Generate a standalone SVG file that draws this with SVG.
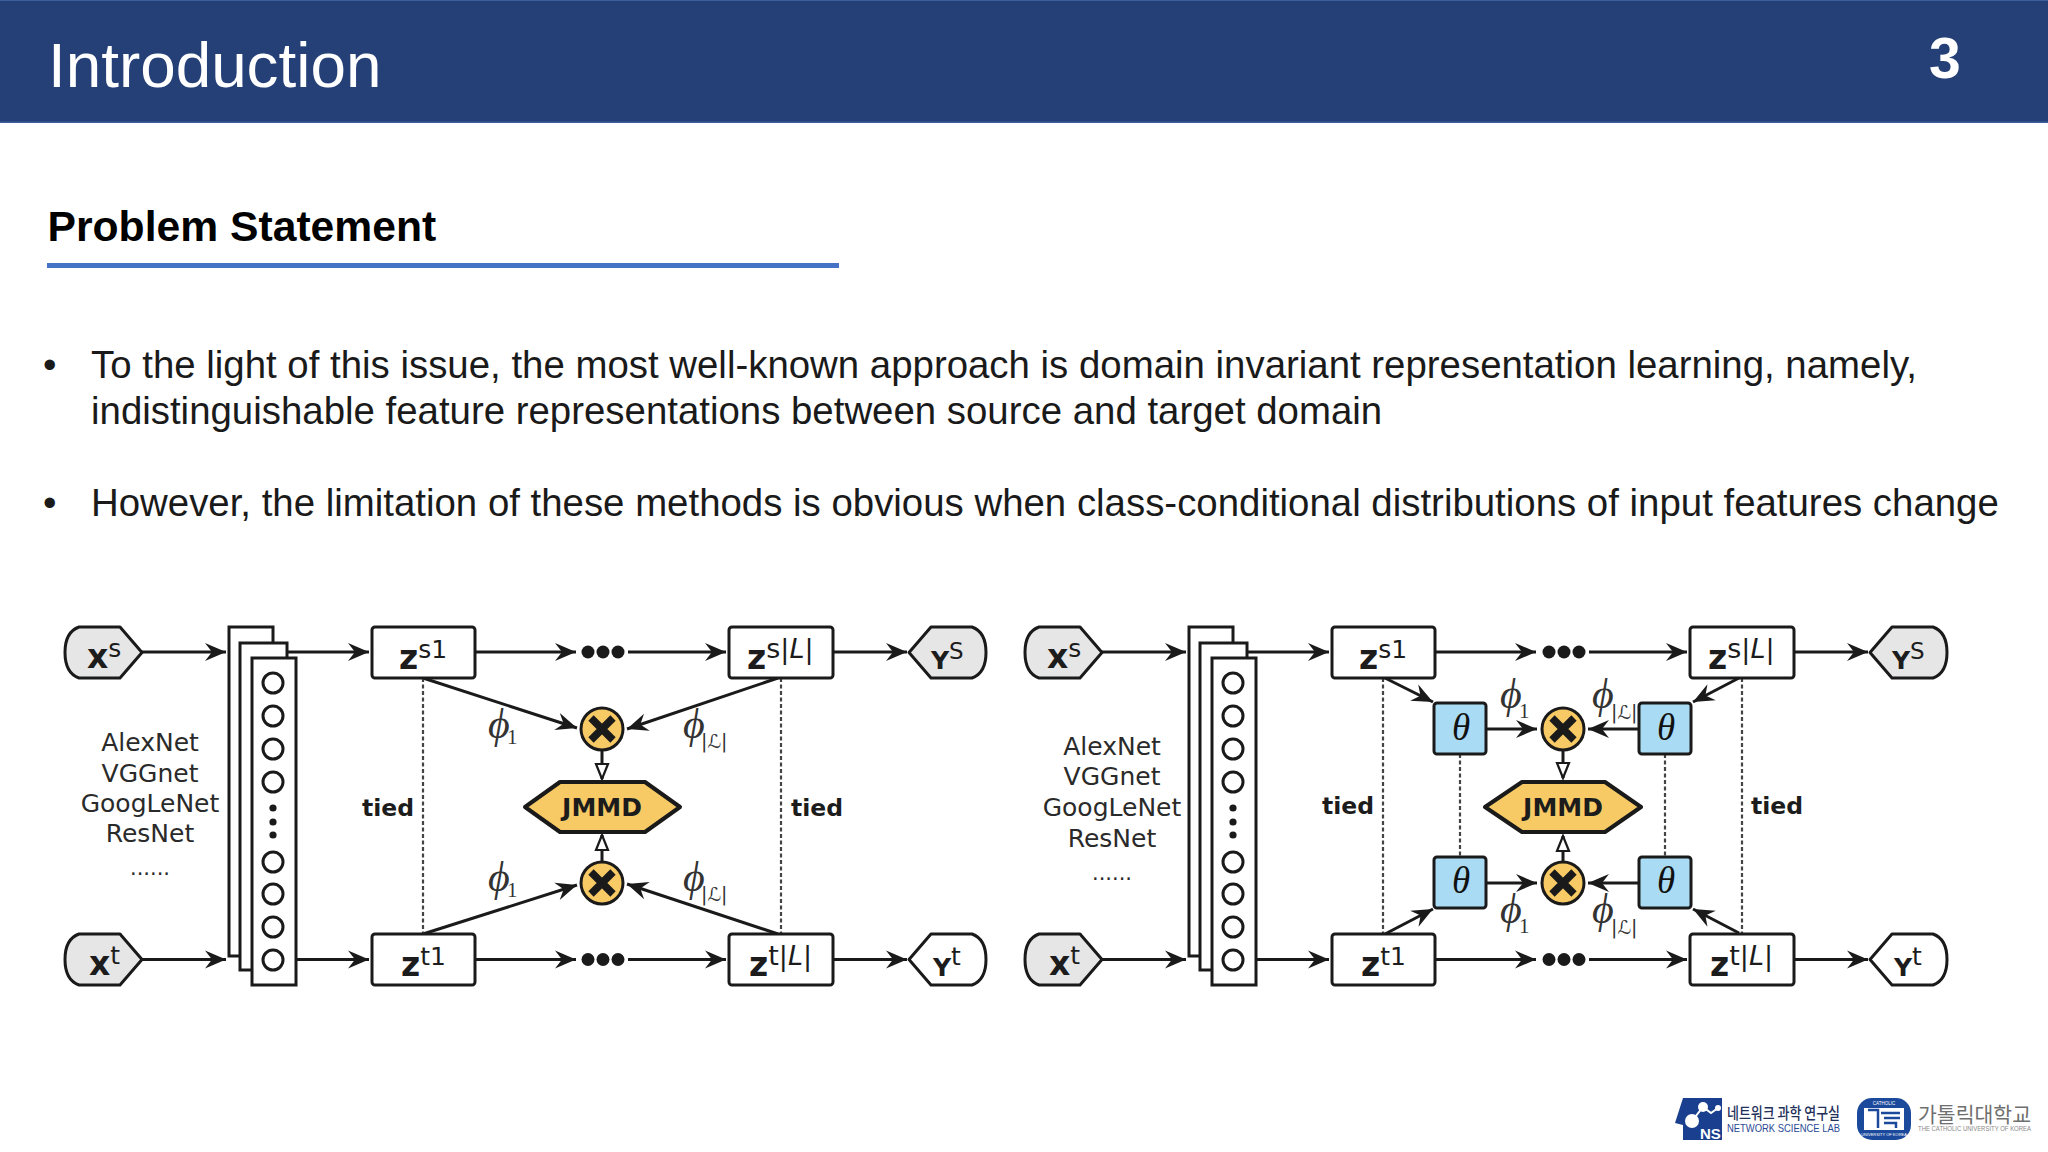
<svg xmlns="http://www.w3.org/2000/svg" width="2048" height="1152" viewBox="0 0 2048 1152">
<style>
.ui{font-family:"Liberation Sans",Arial,sans-serif}
.body{font-family:"Liberation Sans",Arial,sans-serif;font-size:38.4px;fill:#1a1a1a}
.dj{font-family:"DejaVu Sans",sans-serif;fill:#1c1c1c}
.net{font-size:25px;text-anchor:middle;fill:#2a2a2a}
.ell{font-size:21px;text-anchor:middle;fill:#2a2a2a}
.tied{font-size:23.5px;font-weight:bold;text-anchor:middle}
.m{font-size:33px;font-weight:bold}
.y{font-size:25px;font-weight:bold}
.sp{font-size:25px;font-weight:normal}
.sl{font-size:27px;font-weight:normal}
.sq{font-size:23px;font-weight:normal}
.b{fill:#fff;stroke:#1a1a1a;stroke-width:3;stroke-linejoin:round}
.g{fill:#e6e6e6}
.or{fill:#f7ca66}
.t{fill:#a9dcf4;stroke:#1a1a1a;stroke-width:3}
.n{fill:#fff;stroke:#1a1a1a;stroke-width:3}
.k{fill:#1a1a1a}
.c{fill:none;stroke:#1a1a1a;stroke-width:3}
.a{marker-end:url(#ar)}
.h{marker-end:url(#ho)}
.d{stroke-dasharray:4 2.5;stroke-width:2.2;stroke:#444}
.x{stroke:#1a1a1a;stroke-width:7.5;stroke-linecap:butt}
.phi{font-family:"Liberation Serif",serif;font-style:italic;font-size:42px;fill:#333}
.sub{font-family:"Liberation Serif",serif;font-size:21px;fill:#333}
.sc{font-family:"DejaVu Sans",sans-serif;font-size:19px;fill:#333}
.th{font-family:"Liberation Serif",serif;font-style:italic;font-size:37px;fill:#111;text-anchor:middle}
.jm{font-size:25px;font-weight:bold;text-anchor:middle}
</style>
<defs>
<marker id="ar" markerUnits="userSpaceOnUse" markerWidth="24" markerHeight="20" refX="22" refY="10" orient="auto"><path d="M1,1 L22,10 L1,19 L8,10 Z" fill="#1a1a1a"/></marker>
<marker id="ho" markerUnits="userSpaceOnUse" markerWidth="20" markerHeight="16" refX="17" refY="8" orient="auto"><path d="M2,2 L17,8 L2,14 Z" fill="#fff" stroke="#1a1a1a" stroke-width="2.200"/></marker>
<g id="otimes"><circle r="21" class="or" stroke="#1a1a1a" stroke-width="3"/><path d="M-11,-11 L11,11 M-11,11 L11,-11" class="x"/></g>
<g id="stack">
<rect x="229" y="627" width="44" height="329" class="n"/>
<rect x="240" y="643" width="47" height="327" class="n"/>
<rect x="252" y="658" width="44" height="327" class="n"/>
<circle cx="273" cy="683" r="10" class="n"/><circle cx="273" cy="716" r="10" class="n"/><circle cx="273" cy="749" r="10" class="n"/><circle cx="273" cy="782" r="10" class="n"/>
<circle cx="273" cy="808" r="3.600" class="k"/><circle cx="273" cy="822" r="3.600" class="k"/><circle cx="273" cy="835" r="3.600" class="k"/>
<circle cx="273" cy="862" r="10" class="n"/><circle cx="273" cy="894" r="10" class="n"/><circle cx="273" cy="927" r="10" class="n"/><circle cx="273" cy="960" r="10" class="n"/>
</g>
<path id="hx" d="M14,0 H55 L77,25.500 L55,51 H14 Q0,46 0,25.500 Q0,5 14,0 Z"/>
<path id="hy" d="M22,0 H63 Q77,5 77,25.500 Q77,46 63,51 H22 L0,25.500 Z"/>
</defs>
<rect width="2048" height="1152" fill="#fff"/>
<g id="header">
<rect x="0" y="0" width="2048" height="123" fill="#3d5f9c"/>
<rect x="0" y="1" width="2048" height="120.500" fill="#253f77"/>
<text x="48" y="87" class="ui" font-size="63.800" fill="#fff">Introduction</text>
<text x="1929" y="78" class="ui" font-size="57" font-weight="bold" fill="#fff">3</text>
</g>
<g id="heading">
<text x="47.500" y="240.500" class="ui" font-size="42.670" font-weight="bold" fill="#000">Problem Statement</text>
<rect x="47" y="263" width="792" height="5" fill="#4472c4"/>
</g>
<g id="bullets" class="body">
<text x="43" y="378">•</text>
<text x="91" y="378">To the light of this issue, the most well-known approach is domain invariant representation learning, namely,</text>
<text x="91" y="424">indistinguishable feature representations between source and target domain</text>
<text x="43" y="516">•</text>
<text x="91" y="516">However, the limitation of these methods is obvious when class-conditional distributions of input features change</text>
</g>
<g id="connectors">
<g id="connectors-left" class="c">
<path class="a" d="M142,652 H226"/><path class="a" d="M287,652 H369"/><path class="a" d="M475,652 H576"/><path class="a" d="M628,652 H726"/><path class="a" d="M833,652 H907"/>
<path class="a" d="M142,959.500 H226"/><path class="a" d="M296,959.500 H369"/><path class="a" d="M475,959.500 H576"/><path class="a" d="M628,959.500 H726"/><path class="a" d="M833,959.500 H907"/>
<path class="a" d="M423,678 L577,728"/><path class="a" d="M778,678 L627,729"/><path class="a" d="M423,934 L577,885"/><path class="a" d="M778,934 L627,884"/>
<path class="d" d="M423,678 V934"/><path class="d" d="M781,678 V934"/>
<path class="h" d="M602,750 V779"/><path class="h" d="M602,862 V835"/>
</g>
<g id="connectors-right" class="c">
<path class="a" d="M1102,652 H1186"/><path class="a" d="M1247,652 H1329"/><path class="a" d="M1435,652 H1536"/><path class="a" d="M1589,652 H1687"/><path class="a" d="M1794,652 H1868"/>
<path class="a" d="M1102,959.500 H1186"/><path class="a" d="M1256,959.500 H1329"/><path class="a" d="M1435,959.500 H1536"/><path class="a" d="M1589,959.500 H1687"/><path class="a" d="M1794,959.500 H1868"/>
<path class="a" d="M1385,678 L1433,702"/><path class="a" d="M1385,934 L1433,909"/><path class="a" d="M1739,678 L1693,702"/><path class="a" d="M1739,933 L1693,909"/>
<path class="a" d="M1486,729 H1537"/><path class="a" d="M1639,729 H1588"/><path class="a" d="M1486,883 H1537"/><path class="a" d="M1639,883 H1588"/>
<path class="d" d="M1383,678 V934"/><path class="d" d="M1742,678 V934"/><path class="d" d="M1460,754 V857"/><path class="d" d="M1665,754 V857"/>
<path class="h" d="M1563,750 V778"/><path class="h" d="M1563,862 V836"/>
</g>
</g>
<g id="left-diagram">
<g id="l-xs"><use href="#hx" x="65" y="627" class="b g"/><text x="87" y="668" class="dj m">x<tspan class="sp" dy="-11">s</tspan></text></g>
<g id="l-xt"><use href="#hx" x="65" y="934" class="b g"/><text x="89" y="975" class="dj m">x<tspan class="sp" dy="-11">t</tspan></text></g>
<g id="l-stack"><use href="#stack"/></g>
<g id="l-names" class="dj">
<text class="net" x="150" y="751">AlexNet</text><text class="net" x="150" y="782">VGGnet</text><text class="net" x="150" y="812">GoogLeNet</text><text class="net" x="150" y="842">ResNet</text><text class="ell" x="150" y="875">......</text>
</g>
<g id="l-zs1"><rect x="372" y="627" width="103" height="51" rx="3" class="b"/><text x="399" y="669" class="dj m">z<tspan class="sp" dy="-11">s1</tspan></text></g>
<g id="l-zt1"><rect x="372" y="934" width="103" height="51" rx="3" class="b"/><text x="401" y="976" class="dj m">z<tspan class="sp" dy="-11">t1</tspan></text></g>
<g id="l-zsl"><rect x="729" y="627" width="104" height="51" rx="3" class="b"/><text x="747" y="669" class="dj m">z<tspan class="sl" dy="-11">s|<tspan font-style="italic">L</tspan>|</tspan></text></g>
<g id="l-ztl"><rect x="729" y="934" width="104" height="51" rx="3" class="b"/><text x="749" y="976" class="dj m">z<tspan class="sl" dy="-11">t|<tspan font-style="italic">L</tspan>|</tspan></text></g>
<g id="l-ys"><use href="#hy" x="909" y="627" class="b g"/><text x="931" y="669" class="dj y">Y<tspan class="sq" dy="-10">S</tspan></text></g>
<g id="l-yt"><use href="#hy" x="909" y="934" class="b"/><text x="933" y="976" class="dj y">Y<tspan class="sp" dy="-11">t</tspan></text></g>
<g id="l-dots1"><circle cx="588" cy="652" r="6.500" class="k"/><circle cx="603" cy="652" r="6.500" class="k"/><circle cx="618" cy="652" r="6.500" class="k"/></g>
<g id="l-dots2"><circle cx="588" cy="959.500" r="6.500" class="k"/><circle cx="603" cy="959.500" r="6.500" class="k"/><circle cx="618" cy="959.500" r="6.500" class="k"/></g>
<g id="l-mul1"><use href="#otimes" x="602" y="729"/></g>
<g id="l-mul2"><use href="#otimes" x="602" y="883"/></g>
<g id="l-jmmd"><path d="M525,807 L560,782 H645 L680,807 L645,832 H560 Z" class="or" stroke="#1a1a1a" stroke-width="4" stroke-linejoin="round"/><text x="602" y="816" class="dj jm">JMMD</text></g>
<text x="388" y="816" class="dj tied">tied</text>
<text x="817" y="816" class="dj tied">tied</text>
<g id="l-phi">
<text x="488" y="738" class="phi">ϕ</text><text x="507" y="744" class="sub">1</text>
<text x="488" y="891" class="phi">ϕ</text><text x="507" y="897" class="sub">1</text>
<text x="683" y="738" class="phi">ϕ</text><text x="701" y="748" class="sc">|ℒ|</text>
<text x="683" y="891" class="phi">ϕ</text><text x="701" y="901" class="sc">|ℒ|</text>
</g>
</g>
<g id="right-diagram">
<g id="r-xs"><use href="#hx" x="1025" y="627" class="b g"/><text x="1047" y="668" class="dj m">x<tspan class="sp" dy="-11">s</tspan></text></g>
<g id="r-xt"><use href="#hx" x="1025" y="934" class="b g"/><text x="1049" y="975" class="dj m">x<tspan class="sp" dy="-11">t</tspan></text></g>
<g id="r-stack"><use href="#stack" x="960"/></g>
<g id="r-names" class="dj">
<text class="net" x="1112" y="755">AlexNet</text><text class="net" x="1112" y="785">VGGnet</text><text class="net" x="1112" y="816">GoogLeNet</text><text class="net" x="1112" y="847">ResNet</text><text class="ell" x="1112" y="880">......</text>
</g>
<g id="r-zs1"><rect x="1332" y="627" width="103" height="51" rx="3" class="b"/><text x="1359" y="669" class="dj m">z<tspan class="sp" dy="-11">s1</tspan></text></g>
<g id="r-zt1"><rect x="1332" y="934" width="103" height="51" rx="3" class="b"/><text x="1361" y="976" class="dj m">z<tspan class="sp" dy="-11">t1</tspan></text></g>
<g id="r-zsl"><rect x="1690" y="627" width="104" height="51" rx="3" class="b"/><text x="1708" y="669" class="dj m">z<tspan class="sl" dy="-11">s|<tspan font-style="italic">L</tspan>|</tspan></text></g>
<g id="r-ztl"><rect x="1690" y="934" width="104" height="51" rx="3" class="b"/><text x="1710" y="976" class="dj m">z<tspan class="sl" dy="-11">t|<tspan font-style="italic">L</tspan>|</tspan></text></g>
<g id="r-ys"><use href="#hy" x="1870" y="627" class="b g"/><text x="1892" y="669" class="dj y">Y<tspan class="sq" dy="-10">S</tspan></text></g>
<g id="r-yt"><use href="#hy" x="1870" y="934" class="b"/><text x="1894" y="976" class="dj y">Y<tspan class="sp" dy="-11">t</tspan></text></g>
<g id="r-dots1"><circle cx="1549" cy="652" r="6.500" class="k"/><circle cx="1564" cy="652" r="6.500" class="k"/><circle cx="1579" cy="652" r="6.500" class="k"/></g>
<g id="r-dots2"><circle cx="1549" cy="959.500" r="6.500" class="k"/><circle cx="1564" cy="959.500" r="6.500" class="k"/><circle cx="1579" cy="959.500" r="6.500" class="k"/></g>
<g id="r-th1"><rect x="1434" y="703" width="52" height="51" rx="3" class="t"/><text x="1461" y="740" class="th">θ</text></g>
<g id="r-th2"><rect x="1639" y="703" width="52" height="51" rx="3" class="t"/><text x="1666" y="740" class="th">θ</text></g>
<g id="r-th3"><rect x="1434" y="857" width="52" height="51" rx="3" class="t"/><text x="1461" y="893" class="th">θ</text></g>
<g id="r-th4"><rect x="1639" y="857" width="52" height="51" rx="3" class="t"/><text x="1666" y="893" class="th">θ</text></g>
<g id="r-mul1"><use href="#otimes" x="1563" y="729"/></g>
<g id="r-mul2"><use href="#otimes" x="1563" y="883"/></g>
<g id="r-jmmd"><path d="M1485,807 L1522,782 H1605 L1641,807 L1605,832 H1522 Z" class="or" stroke="#1a1a1a" stroke-width="4" stroke-linejoin="round"/><text x="1563" y="816" class="dj jm">JMMD</text></g>
<text x="1348" y="814" class="dj tied">tied</text>
<text x="1777" y="814" class="dj tied">tied</text>
<g id="r-phi">
<text x="1500" y="708" class="phi">ϕ</text><text x="1519" y="718" class="sub">1</text>
<text x="1592" y="708" class="phi">ϕ</text><text x="1611" y="719" class="sc">|ℒ|</text>
<text x="1500" y="923" class="phi">ϕ</text><text x="1519" y="933" class="sub">1</text>
<text x="1592" y="923" class="phi">ϕ</text><text x="1611" y="934" class="sc">|ℒ|</text>
</g>
</g>
<g id="logo-ns">
<path d="M1683,1098 H1722 V1140 H1683 V1125 L1675,1123 Z" fill="#1b3f8f"/>
<circle cx="1703" cy="1107" r="5" fill="#fff"/><circle cx="1692" cy="1121" r="7" fill="#fff"/><circle cx="1718" cy="1108" r="3" fill="#fff"/>
<path d="M1692,1121 L1703,1107 L1711,1113 L1718,1108" fill="none" stroke="#fff" stroke-width="2"/>
<text x="1700" y="1139" class="ui" font-size="15" font-weight="bold" fill="#fff">NS</text>
<text x="1727" y="1119" font-family="'Noto Sans CJK KR',sans-serif" font-size="16" font-weight="500" fill="#22305a" textLength="113" lengthAdjust="spacingAndGlyphs">네트워크 과학 연구실</text>
<text x="1727" y="1132" class="ui" font-size="11.500" fill="#2b4a94" textLength="113" lengthAdjust="spacingAndGlyphs">NETWORK SCIENCE LAB</text>
</g>
<g id="logo-cuk">
<rect x="1857" y="1098" width="54" height="42" rx="15" fill="#1b4a9c"/>
<rect x="1864" y="1108" width="40" height="22" fill="#fff"/>
<path d="M1868,1110 H1878 V1128 M1881,1113 H1900 M1884,1118 H1900 M1884,1123 H1896 V1128" fill="none" stroke="#1b4a9c" stroke-width="2.500"/>
<text x="1884" y="1105" class="ui" font-size="4.500" fill="#fff" text-anchor="middle">CATHOLIC</text>
<text x="1884" y="1136" class="ui" font-size="4" fill="#fff" text-anchor="middle">UNIVERSITY OF KOREA</text>
<text x="1918" y="1122" font-family="'Noto Sans CJK KR',sans-serif" font-size="21" fill="#6f6f6f" textLength="113" lengthAdjust="spacingAndGlyphs">가톨릭대학교</text>
<text x="1918" y="1131" class="ui" font-size="6.500" fill="#8a8a8a" textLength="113" lengthAdjust="spacingAndGlyphs">THE CATHOLIC UNIVERSITY OF KOREA</text>
</g>
</svg>
